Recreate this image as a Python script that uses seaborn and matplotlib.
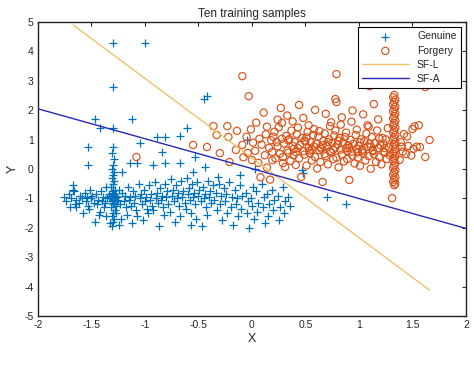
import matplotlib
matplotlib.use("Agg")
import matplotlib.pyplot as plt
import seaborn as sns
import pandas as pd
import numpy as np

sns.set_style("white")
plt.rcParams['font.family'] = ['Liberation Sans', 'DejaVu Sans']
plt.rcParams['axes.unicode_minus'] = False

# ---- Genuine samples (x, y) ----
gen_x = [
    -1.30, -1.00, -1.30, -0.45, -0.42, -1.47, -1.12, -0.61, -1.42, -1.30, -0.89, -0.81, -0.67,
    -1.53, -1.05, -0.84, -1.53, -1.14, -1.07, -0.92, -0.81, -0.67, -1.21, -0.55, -0.32, -0.11,
    0.03, 0.48, 0.70, 0.88, -1.67, -1.67, -1.64, -0.05, -0.53, -0.44, 0.47,
    # column near x=-1.3
    -1.30, -1.31, -1.29, -1.30, -1.31, -1.29, -1.30, -1.31, -1.29, -1.30, -1.32, -1.28, -1.30,
    -1.31, -1.29, -1.30, -1.32, -1.28, -1.30, -1.31, -1.29, -1.30, -1.32, -1.28, -1.30, -1.31,
    -1.29, -1.30, -1.31, -1.27, -1.33, -1.26, -1.34, -1.27, -1.33,
    # main band
    -1.76, -1.74, -1.71, -1.69, -1.70, -1.66, -1.64, -1.65, -1.61, -1.59, -1.62, -1.58,
    -1.56, -1.54, -1.55, -1.53, -1.51, -1.49, -1.50, -1.48, -1.52, -1.46, -1.44, -1.45,
    -1.43, -1.47, -1.41, -1.39, -1.40, -1.38, -1.42, -1.36, -1.34, -1.35, -1.37, -1.36,
    -1.33, -1.24, -1.26, -1.25, -1.23, -1.27, -1.24, -1.21, -1.19, -1.20, -1.18, -1.22,
    -1.16, -1.14, -1.15, -1.13, -1.17, -1.11, -1.09, -1.10, -1.08, -1.12, -1.06, -1.04,
    -1.05, -1.03, -1.07, -1.01, -0.99, -1.00, -0.98, -1.02, -0.96, -0.94, -0.95, -0.93,
    -0.97, -0.91, -0.89, -0.90, -0.88, -0.92, -0.87, -0.86, -0.84, -0.85, -0.83, -0.81,
    -0.79, -0.80, -0.78, -0.82, -0.76, -0.74, -0.75, -0.73, -0.77, -0.72, -0.71, -0.69,
    -0.70, -0.68, -0.66, -0.64, -0.65, -0.63, -0.67, -0.61, -0.59, -0.60, -0.58, -0.62,
    -0.57, -0.56, -0.54, -0.55, -0.53, -0.57, -0.51, -0.49, -0.50, -0.48, -0.52, -0.46,
    -0.44, -0.45, -0.43, -0.47, -0.41, -0.39, -0.40, -0.38, -0.42, -0.36, -0.34, -0.35,
    -0.33, -0.31, -0.29, -0.30, -0.28, -0.26, -0.24, -0.25, -0.23, -0.21, -0.19, -0.20,
    -0.18, -0.16, -0.14, -0.15, -0.13, -0.11, -0.09, -0.10, -0.06, -0.04, -0.05, -0.03,
    0.01, -0.01, 0.00, 0.02, 0.04, 0.06, 0.05, 0.09, 0.11, 0.10, 0.12, 0.14, 0.16, 0.15,
    0.19, 0.21, 0.20, 0.24, 0.26, 0.25, 0.29, 0.31, 0.30, 0.34, 0.36,
]
gen_y = [
    4.28, 4.28, 2.80, 2.38, 2.48, 1.70, 1.70, 1.39, 1.38, 1.38, 1.09, 1.09, 1.12,
    0.75, 0.88, 0.58, 0.14, 0.20, 0.20, 0.14, 0.20, 0.20, -0.10, -0.10, -0.27, -0.20,
    0.00, -0.14, -0.95, -1.19, -0.55, -0.71, -1.29, 0.99, 0.41, 0.07, -0.03,
    # column
    0.75, 0.55, 0.35, 0.15, 0.00, -0.10, -0.20, -0.30, -0.40, -0.50, -0.60, -0.70, -0.75,
    -0.80, -0.85, -0.90, -0.95, -1.00, -1.05, -1.10, -1.15, -1.20, -1.30, -1.40, -1.50, -1.60,
    -1.70, -1.80, -1.95, -0.90, -1.00, -1.10, -0.85, -1.25, -0.95,
    # main band
    -0.95, -1.10, -0.85, -1.00, -1.30, -0.75, -1.05, -1.20, -0.90, -1.00, -1.15, -1.50,
    -0.80, -0.95, -1.10, -1.25, -0.70, -0.90, -1.00, -1.15, -1.35, -0.85, -1.05, -1.20,
    -1.55, -1.80, -0.75, -0.95, -1.10, -1.30, -1.45, -0.60, -0.90, -1.00, -1.15, -1.60,
    -1.85, -0.70, -0.95, -1.05, -1.20, -1.50, -1.90, -0.80, -0.90, -1.10, -1.30, -1.70,
    -0.60, -0.95, -1.05, -1.25, -1.55, -0.75, -0.90, -1.15, -1.40, -1.85, -0.50, -0.85,
    -1.00, -1.20, -1.60, -0.70, -0.95, -1.10, -1.35, -1.75, -0.55, -0.85, -1.05, -1.25,
    -1.50, -0.45, -0.80, -1.00, -1.15, -1.40, -1.95, -0.65, -0.90, -1.05, -1.30, -0.50,
    -0.75, -0.95, -1.20, -1.55, -0.35, -0.70, -0.90, -1.10, -1.45, -1.80, -0.55, -0.80,
    -1.00, -1.25, -0.40, -0.75, -0.95, -1.15, -1.60, -0.30, -0.65, -0.85, -1.05, -1.35,
    -1.90, -0.50, -0.80, -0.95, -1.20, -1.50, -0.45, -0.70, -0.90, -1.10, -1.70, -0.60,
    -0.85, -1.00, -1.30, -1.95, -0.40, -0.75, -0.95, -1.15, -1.55, -0.55, -0.80, -1.05,
    -1.40, -0.50, -0.90, -1.20, -1.75, -0.65, -0.85, -1.10, -1.50, -0.45, -0.95, -1.30,
    -1.90, -0.70, -1.00, -1.20, -1.60, -0.55, -0.90, -1.35, -0.80, -1.10, -1.50, -2.00,
    -0.60, -1.00, -1.25, -1.70, -0.75, -1.15, -1.45, -0.50, -0.95, -1.30, -1.85, -0.85, -1.20, -1.60,
    -0.70, -1.05, -1.40, -0.90, -1.30, -1.75, -0.60, -1.10, -1.50, -0.95, -1.25,
]

# ---- Forgery samples (x, y) ----
forg_x = [
    # outliers and left part
    -1.08, -0.55, -0.42, -0.36, -0.33, -0.30, -0.23, -0.22, -0.21, -0.15, -0.14, -0.09, -0.08,
    -0.05, -0.04, 0.00, 0.01, -0.01, -0.09, 0.79, 1.10, -0.03, 0.78, 1.31, 1.62, 1.62, 1.66,
    1.52, 1.57,
    # main cluster
    0.03, 0.07, 0.04, 0.08, 0.06,
    0.12, 0.09, 0.13, 0.11, 0.14,
    0.16, 0.18, 0.14, 0.17, 0.19,
    0.22, 0.19, 0.23, 0.21, 0.24, 0.20,
    0.26, 0.24, 0.28, 0.25, 0.27, 0.29,
    0.31, 0.29, 0.33, 0.30, 0.32, 0.28, 0.34,
    0.36, 0.34, 0.38, 0.35, 0.37, 0.33, 0.39,
    0.41, 0.39, 0.43, 0.40, 0.42, 0.38, 0.44, 0.41,
    0.46, 0.44, 0.48, 0.45, 0.47, 0.43, 0.49,
    0.51, 0.49, 0.53, 0.50, 0.52, 0.48, 0.54, 0.51,
    0.56, 0.54, 0.58, 0.55, 0.57, 0.53, 0.59, 0.56,
    0.61, 0.59, 0.63, 0.60, 0.62, 0.58, 0.64,
    0.66, 0.64, 0.68, 0.65, 0.67, 0.63, 0.69, 0.66,
    0.71, 0.69, 0.73, 0.70, 0.72, 0.68, 0.74, 0.71,
    0.76, 0.74, 0.78, 0.75, 0.77, 0.73, 0.79, 0.76,
    0.81, 0.79, 0.83, 0.80, 0.82, 0.78, 0.84, 0.81,
    0.86, 0.84, 0.88, 0.85, 0.87, 0.83, 0.89,
    0.91, 0.89, 0.93, 0.90, 0.92, 0.88, 0.94, 0.91,
    0.96, 0.94, 0.98, 0.95, 0.97, 0.93, 0.99,
    1.01, 0.99, 1.03, 1.00, 1.02, 0.98, 1.04, 1.01,
    1.06, 1.04, 1.08, 1.05, 1.07, 1.03, 1.09,
    1.11, 1.09, 1.13, 1.10, 1.12, 1.08, 1.14, 1.11,
    1.16, 1.14, 1.18, 1.15, 1.17, 1.13, 1.19,
    1.21, 1.19, 1.23, 1.20, 1.22, 1.18, 1.24,
    1.26, 1.24, 1.28, 1.25, 1.27, 1.23, 1.29,
    1.38, 1.41, 1.39, 1.42, 1.40,
    1.44, 1.46, 1.45,
    1.49, 1.51, 1.50,
    1.54, 1.56,
    # column near x=1.33
    1.33, 1.32, 1.34, 1.33, 1.32, 1.34, 1.33, 1.32, 1.34, 1.33, 1.32, 1.34, 1.33, 1.32,
    1.34, 1.33, 1.32, 1.34, 1.33, 1.32, 1.34, 1.33, 1.32, 1.34, 1.33, 1.32, 1.34, 1.33,
    1.32, 1.34, 1.33, 1.32, 1.34, 1.33, 1.32, 1.34, 1.33, 1.32, 1.34, 1.33,
]
forg_y = [
    0.41, 0.82, 0.75, 1.46, 1.16, 0.54, 1.46, 1.09, 0.24, 0.65, 1.30, 0.82, 0.40,
    1.10, 0.55, 0.31, 0.90, 1.35, 3.16, 3.23, 2.82, 2.48, 2.38, -0.99, 2.79, 0.41, 0.99,
    1.45, 0.75,
    0.62, 1.03, 1.58, -0.28, 0.21,
    0.47, 0.83, 1.18, 1.92, 0.05,
    0.72, 0.98, 1.44, -0.36, 0.30,
    0.36, 0.58, 0.92, 1.27, 1.68, 1.10,
    0.52, 0.77, 1.03, 1.42, 2.08, 0.20,
    0.07, 0.41, 0.63, 0.87, 1.13, 1.57, 0.98,
    0.28, 0.56, 0.79, 1.02, 1.31, 1.82, 0.68,
    0.14, 0.47, 0.71, 0.92, 1.19, 1.62, 2.18, 0.58,
    -0.27, 0.36, 0.61, 0.82, 1.06, 1.41, 0.97,
    0.12, 0.49, 0.72, 0.94, 1.26, 1.74, 0.63, 1.08,
    0.29, 0.54, 0.77, 0.91, 1.16, 1.49, 2.01, 0.66,
    0.02, 0.41, 0.64, 0.86, 1.11, 1.36, 0.74,
    -0.44, 0.24, 0.51, 0.69, 0.96, 1.29, 1.88, 0.81,
    0.16, 0.44, 0.61, 0.79, 1.01, 1.21, 1.59, 0.92,
    0.34, 0.56, 0.74, 0.89, 1.14, 1.46, 2.28, 0.66,
    0.06, 0.39, 0.66, 0.84, 1.06, 1.31, 1.76, 0.96,
    0.26, 0.49, 0.71, 0.91, 1.09, 1.51, 0.62,
    -0.37, 0.34, 0.59, 0.81, 0.99, 1.24, 1.99, 0.72,
    0.19, 0.46, 0.69, 0.86, 1.16, 1.61, 0.57,
    0.11, 0.39, 0.61, 0.79, 1.01, 1.34, 1.86, 0.91,
    0.29, 0.54, 0.76, 0.94, 1.21, 0.66, 1.44,
    0.01, 0.44, 0.64, 0.86, 1.09, 1.49, 2.21, 0.76,
    0.24, 0.51, 0.71, 0.89, 1.31, 0.61, 1.04,
    0.16, 0.41, 0.59, 0.81, 1.06, 1.69, 0.71,
    0.34, 0.56, 0.74, 1.01, 1.39, 0.86, 0.46,
    0.31, 0.59, 0.91, 1.19, 0.76,
    0.51, 0.79, 1.11,
    0.46, 0.69, 1.36,
    0.76, 1.49,
    # column
    2.52, 2.44, 2.36, 2.28, 2.20, 2.12, 2.04, 1.96, 1.88, 1.80, 1.72, 1.64, 1.56, 1.48,
    1.40, 1.32, 1.24, 1.16, 1.08, 1.00, 0.92, 0.84, 0.76, 0.68, 0.60, 0.52, 0.44, 0.36,
    0.28, 0.20, 0.12, 0.04, -0.04, -0.12, -0.20, -0.28, -0.36, -0.44, -0.50, -0.55,
]

# ---- Decision lines (endpoints) ----
sfl_x = [-1.67, 1.66]
sfl_y = [4.90, -4.12]
sfa_x = [-2.0, 2.0]
sfa_y = [2.05, -2.02]

gen = pd.DataFrame({"X": gen_x, "Y": gen_y})
forg = pd.DataFrame({"X": forg_x, "Y": forg_y})
sfl = pd.DataFrame({"X": sfl_x, "Y": sfl_y})
sfa = pd.DataFrame({"X": sfa_x, "Y": sfa_y})

fig = plt.figure(figsize=(4.74, 3.74), dpi=100)
ax = fig.add_axes([0.080, 0.155, 0.903, 0.786])

c_gen = "#0072BD"
c_forg = "#D95319"
sns.scatterplot(data=gen, x="X", y="Y", ax=ax, marker="+", color=c_gen, s=34,
                linewidth=0.9, label="Genuine", zorder=3)
sns.scatterplot(data=forg, x="X", y="Y", ax=ax, marker="o", facecolors="none",
                edgecolor=c_forg, s=27, linewidth=0.85, label="Forgery", zorder=3)
sns.lineplot(data=sfl, x="X", y="Y", ax=ax, color="#EDC46A", linewidth=1.0,
             label="SF-L", sort=False, zorder=4)
sns.lineplot(data=sfa, x="X", y="Y", ax=ax, color="#2828B8", linewidth=1.0,
             label="SF-A", sort=False, zorder=4)

ax.set_xlim(-2, 2)
ax.set_ylim(-5, 5)
ax.set_xticks(np.arange(-2, 2.01, 0.5))
ax.set_xticklabels(["-2", "-1.5", "-1", "-0.5", "0", "0.5", "1", "1.5", "2"])
ax.set_yticks(np.arange(-5, 5.1, 1))
ax.tick_params(direction="in", top=True, right=True, length=3, labelsize=7.5, width=0.8, pad=3)
for s in ax.spines.values():
    s.set_visible(True)
    s.set_color("#222222")
    s.set_linewidth(1.0)
ax.set_xlabel("X", fontsize=9, labelpad=2)
ax.set_ylabel("Y", fontsize=9, labelpad=4)
ax.set_title("Ten training samples", fontsize=8.5, pad=4)

leg = ax.legend(loc="upper right", fontsize=7.5, frameon=True, fancybox=False,
                edgecolor="black", framealpha=1, borderpad=0.4, labelspacing=0.4,
                handlelength=4.5, borderaxespad=0.5)
leg.get_frame().set_linewidth(0.8)

fig.savefig("out.png", dpi=100)
